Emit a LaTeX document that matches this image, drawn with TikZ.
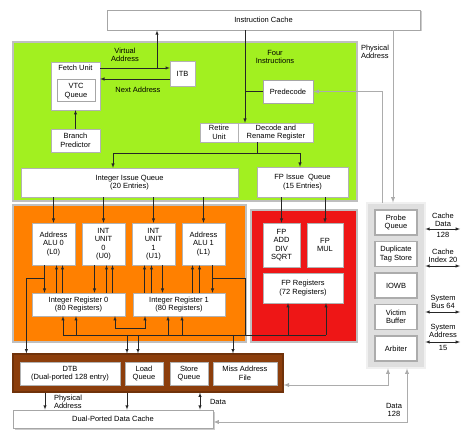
\documentclass[tikz,border=0pt]{standalone}
\usepackage{fontspec}
\setmainfont{Liberation Sans}
\usetikzlibrary{positioning,shadows}

\definecolor{iboxgreen}{RGB}{162,240,32}
\definecolor{eboxorange}{RGB}{255,128,0}
\definecolor{fboxred}{RGB}{238,22,22}
\definecolor{mboxbrown}{RGB}{140,62,12}

\begin{document}
\begin{tikzpicture}[
       x=1pt, y=-1pt,
       font=\fontsize{7.5}{8.5}\selectfont,
       node distance=50pt,
       region/.style={rectangle, draw=gray!50, line width=1.2pt, inner sep=0pt},
       block/.style={rectangle, draw=gray!60, fill=white, align=center, inner sep=1pt},
       cache/.style={block, draw=gray!70, line width=0.8pt, drop shadow={shadow xshift=1.5pt, shadow yshift=-1.5pt, opacity=0.4}},
       unit/.style={block, minimum width=43pt, minimum height=42pt},
       cboxunit/.style={block, draw=gray!65, line width=1.4pt, minimum width=42pt, minimum height=25pt},
       note/.style={align=center, inner sep=0pt},
       wire/.style={black!85, line width=0.5pt},
       arrow/.style={->, >=latex, black!85, line width=0.5pt},
       busline/.style={gray!65, line width=0.9pt}
   ]
   \useasboundingbox (0,0) rectangle (474,446);

   % regions
   \node[region, fill=iboxgreen, minimum width=344pt, minimum height=159pt] (ibox) at (185,121.5) {};
   \node[region, fill=eboxorange, minimum width=233pt, minimum height=137pt] (ebox) at (129.5,273.5) {};
   \node[region, fill=fboxred, minimum width=106pt, minimum height=132pt] (fbox) at (304,276) {};
   \node[region, fill=mboxbrown, draw=mboxbrown!80!black, minimum width=270pt, minimum height=38pt] (mbox) at (148,373) {};
   \node[region, fill=gray!25, draw=gray!65, line width=0.8pt, double=gray!12, double distance=1.2pt, minimum width=58pt, minimum height=165pt] (cbox) at (396,285.5) {};

   % caches
   \node[cache, minimum width=313pt, minimum height=20pt] (icache) at (263.5,20) {Instruction Cache};
   \node[cache, minimum width=200pt, minimum height=18pt] (dcache) at (113,419) {Dual-Ported Data Cache};

   % ibox
   \node[block, minimum width=49pt, minimum height=48pt, label={[anchor=north, inner sep=3pt]north:Fetch Unit}] (fetch) at (75.5,86) {};
   \node[block, draw=gray!70, line width=1pt, minimum width=38pt, minimum height=22pt] (vtc) at (76,91) {VTC\\Queue};
   \node[block, minimum width=25pt, minimum height=25pt] (itb) at (182.5,73.5) {ITB};
   \node[block, minimum width=49pt, minimum height=23pt] (bpred) at (75.5,140.5) {Branch\\Predictor};
   \node[block, draw=gray!70, line width=0.8pt, minimum width=50pt, minimum height=23pt] (predecode) at (288,91.5) {Predecode};
   \node[block, minimum width=38pt, minimum height=19pt] (retire) at (219,132.5) {Retire\\Unit};
   \node[block, minimum width=75pt, minimum height=19pt, right=0pt of retire] (decode) {Decode and\\Rename Register};
   \node[block, minimum width=217pt, minimum height=29pt] (intq) at (129.5,182.5) {Integer Issue Queue\\(20 Entries)};
   \node[block, minimum width=91pt, minimum height=30pt] (fpq) at (302.5,182) {FP Issue\ \ Queue\\(15 Entries)};

   % ebox
   \node[unit] (alu0) at (53.5,244) {Address\\ALU 0\\(L0)};
   \node[unit, right of=alu0] (int0) {INT\\UNIT\\0\\(U0)};
   \node[unit, right of=int0] (int1) {INT\\UNIT\\1\\(U1)};
   \node[unit, right of=int1] (alu1) {Address\\ALU 1\\(L1)};
   \node[block, minimum width=93pt, minimum height=23pt] (ireg0) at (78.5,304.5) {Integer Register 0\\(80 Registers)};
   \node[block, minimum width=92pt, minimum height=23pt] (ireg1) at (179,304.5) {Integer Register 1\\(80 Registers)};

   % fbox
   \node[block, minimum width=37pt, minimum height=44pt] (fpadd) at (281.5,245) {FP\\ADD\\DIV\\SQRT};
   \node[block, minimum width=36pt, minimum height=44pt] (fpmul) at (325,245) {FP\\MUL};
   \node[block, minimum width=80pt, minimum height=30pt] (fpreg) at (303,288) {FP Registers\\(72 Registers)};

   % mbox
   \node[block, minimum width=100pt, minimum height=23pt] (dtb) at (70,373.5) {DTB\\(Dual-ported 128 entry)};
   \node[block, minimum width=38pt, minimum height=23pt] (ldq) at (144,373.5) {Load\\Queue};
   \node[block, minimum width=38pt, minimum height=23pt] (stq) at (189,373.5) {Store\\Queue};
   \node[block, minimum width=64pt, minimum height=23pt] (maf) at (245,373.5) {Miss Address\\File};

   % cbox
   \begin{scope}[node distance=31.5pt]
   \node[cboxunit] (probe) at (396,222.5) {Probe\\Queue};
   \node[cboxunit, below of=probe] (duptag) {Duplicate\\Tag Store};
   \node[cboxunit, below of=duptag] (iowb) {IOWB};
   \node[cboxunit, below of=iowb] (victim) {Victim\\Buffer};
   \node[cboxunit, below of=victim] (arbiter) {Arbiter};
   \end{scope}

   % notes
   \node[note] (vaddr) at (125,55) {Virtual\\Address};
   \node[note] (naddr) at (138,90) {Next Address};
   \node[note] (fourins) at (275,57) {Four\\Instructions};
   \node[note, align=left] (paddr) at (375,52) {Physical\\Address};
   \node[note, align=left] (dpaddr) at (68,402) {Physical\\Address};
   \node[note] (stdata) at (218,402) {Data};
   \node[note] (mdata) at (394,410) {Data\\128};
   \node[note] (cdatatxt) at (443,220) {Cache\\Data};
   \node[note] (cdatawd) at (443,235) {128};
   \node[note] (cindextxt) at (443,256) {Cache\\Index 20};
   \node[note] (sbustxt) at (443,302) {System\\Bus 64};
   \node[note] (saddrtxt) at (443,331) {System\\Address};
   \node[note] (saddrwd) at (443,348) {15};

   % fetch
   \coordinate (vaddrpt) at ([yshift=18pt]fetch.east);
   \draw[arrow] (vaddrpt) -- (vaddrpt -| itb.west);
   \coordinate (icachetap) at (157,68);
   \draw[arrow] (icachetap) -- (icachetap |- icache.south);
   \coordinate (naddrpt) at ([yshift=-5.5pt]itb.west);
   \draw[arrow] (naddrpt) -- (naddrpt -| fetch.east);
   \draw[arrow] (bpred.north) -- (fetch.south);

   % instructions
   \coordinate (fourpt) at (245,91.5);
   \draw[arrow] (fourpt |- icache.south) -- (fourpt |- decode.north);
   \draw[wire] (predecode.west) -- (fourpt);
   \coordinate (fillpt) at (382,91.5);
   \draw[arrow, busline] (fillpt |- cbox.north) -- (fillpt) -- (predecode.east);
   \coordinate (paddrpt) at (393,30);
   \draw[arrow, busline] (paddrpt |- icache.south) -- (paddrpt |- cbox.north);

   % issue
   \coordinate (dqpt) at (257,153);
   \draw[wire] (dqpt |- decode.south) -- (dqpt);
   \draw[arrow] (dqpt) -| ([xshift=-16.5pt]intq.north);
   \draw[arrow] (dqpt) -| ([xshift=-2.5pt]fpq.north);
   \foreach \u in {alu0,int0,int1,alu1}
      \draw[arrow] (intq.south -| \u) -- (\u.north);
   \foreach \u in {fpadd,fpmul}
      \draw[arrow] (fpq.south -| \u) -- (\u.north);

   % units and register files
   \foreach \u/\r/\res/\opa/\opb in {alu0/ireg0/-9pt/3pt/9pt, int0/ireg0/-9pt/3pt/9pt, int1/ireg1/9pt/-9pt/-2pt, alu1/ireg1/9pt/-11pt/-4pt} {
      \coordinate (t) at ([xshift=\res]\u.south);
      \draw[arrow] (t) -- (t |- \r.north);
      \coordinate (t) at ([xshift=\opa]\u.south);
      \draw[arrow] (t |- \r.north) -- (t);
      \coordinate (t) at ([xshift=\opb]\u.south);
      \draw[arrow] (t |- \r.north) -- (t);
   }
   \draw[arrow] ([xshift=-9pt,yshift=-13pt]alu0.south) -| ([xshift=14pt]mbox.north west);
   \draw[arrow, <->] ([xshift=36.5pt]ireg0.south) -- ++(0,12) -| ([xshift=-34pt]ireg1.south);

   % result bus
   \coordinate (busw) at (63,335);
   \coordinate (buse) at (326,335);
   \coordinate (busjoin) at (245,335);
   \draw[wire] (busw) -- (buse);
   \draw[wire] ([xshift=9pt,yshift=-13pt]alu1.south) -| (busjoin);
   \foreach \r/\s in {ireg0/-15.5pt, ireg0/-2.5pt, ireg1/-11pt, ireg1/3pt, fpreg/-15pt, fpreg/23pt} {
      \coordinate (t) at ([xshift=\s]\r.south);
      \draw[arrow] (t |- busw) -- (t);
   }
   \foreach \s in {-21pt,-10pt,85pt} {
      \coordinate (t) at ([xshift=\s]mbox.north);
      \draw[arrow] (t |- busw) -- (t);
   }

   % data cache
   \foreach \n/\s in {dtb/-25pt, ldq/-17pt} {
      \coordinate (t) at ([xshift=\s]\n.south);
      \draw[arrow] (t |- mbox.south) -- (t |- dcache.north);
   }
   \coordinate (t) at ([xshift=11pt]stq.south);
   \draw[arrow, <->] (t |- mbox.south) -- (t |- dcache.north);

   % bus interface
   \draw[arrow, <->, busline] ([xshift=-8pt]cbox.south) |- ([yshift=-12pt]mbox.east);
   \draw[arrow, <->, busline] ([xshift=11pt]cbox.south) |- ([yshift=-3pt]dcache.east);
   \foreach \y/\n in {229/cdata, 266/cindex, 312/sbus, 342/saddr} {
      \coordinate (\n) at (460,\y);
      \draw[arrow, <->] (cbox.east |- \n) -- (\n);
   }
\end{tikzpicture}
\end{document}
